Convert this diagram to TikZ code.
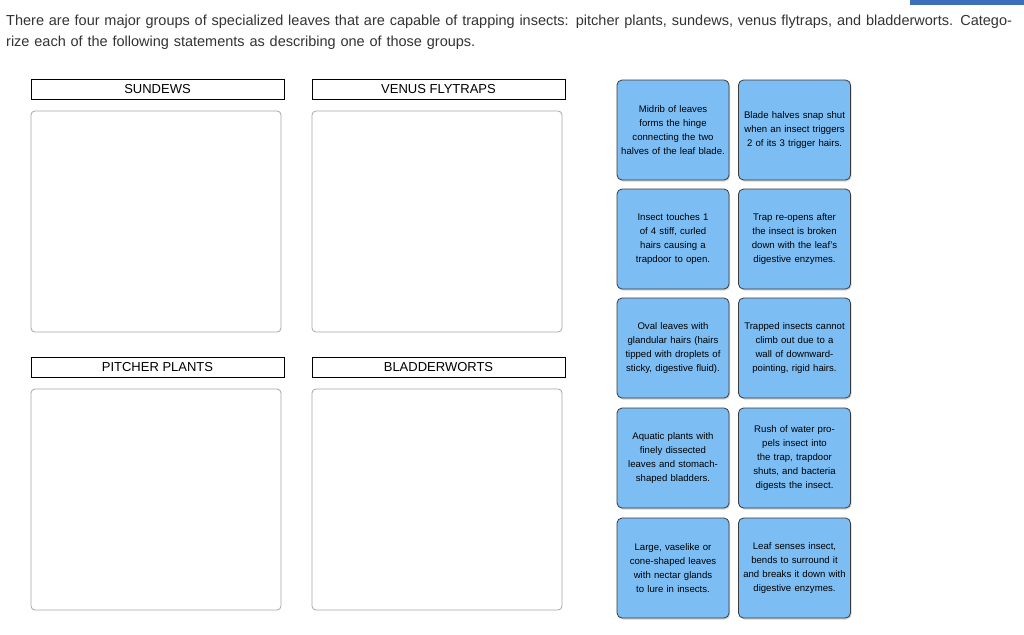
\documentclass[tikz,border=0pt]{standalone}
\usepackage{fontspec}
\setmainfont{Liberation Sans}
\definecolor{cardfill}{HTML}{7CBDF4}
\definecolor{cardedge}{HTML}{3A3A3A}
\definecolor{topbar}{HTML}{3D6FB8}
\definecolor{txt}{HTML}{333333}
\begin{document}
\begin{tikzpicture}[x=1pt,y=-1pt,
  lbl/.style={draw=black,line width=0.9pt,minimum width=253pt,minimum height=20pt,inner sep=0pt,font=\fontsize{13}{13}\selectfont},
  drop/.style={draw=gray!70,line width=0.8pt,rounded corners=4pt,minimum width=250pt,minimum height=221pt},
  card/.style={draw=cardedge,fill=cardfill,line width=0.8pt,rounded corners=5pt,minimum width=112pt,minimum height=100pt,text width=104pt,align=center,inner sep=2pt,font=\fontsize{9.6}{14}\selectfont,
    drop shadow={opacity=0.35,shadow xshift=1pt,shadow yshift=-1.5pt}}]
\usetikzlibrary{shadows}
\useasboundingbox (0,0) rectangle (1024,634);
\fill[white] (0,0) rectangle (1024,634);
\fill[topbar] (910,0) rectangle (1024,5);
\node[anchor=west,text=txt,font=\fontsize{14.5}{21}\selectfont,text width=1010pt,align=left,inner sep=0pt] (intro) at (6,32)
 {There are four major groups of specialized leaves that are capable of trapping insects: pitcher plants, sundews, venus flytraps, and bladderworts. Categorize each of the following statements as describing one of those groups.};
\node[lbl] (l1) at (157.5,89) {SUNDEWS};
\node[lbl] (l2) at (438.5,89) {VENUS FLYTRAPS};
\node[lbl] (l3) at (157.5,367) {PITCHER PLANTS};
\node[lbl] (l4) at (438.5,367) {BLADDERWORTS};
\node[drop] (d1) at (156,221.5) {};
\node[drop] (d2) at (437,221.5) {};
\node[drop] (d3) at (156,499.5) {};
\node[drop] (d4) at (437,499.5) {};
\node[card] (c11) at (673,130) {Midrib of leaves forms the hinge connecting the two halves of the leaf blade.};
\node[card] (c12) at (794.5,130) {Blade halves snap shut when an insect triggers 2 of its 3 trigger hairs.};
\node[card] (c21) at (673,239) {Insect touches 1 of 4 stiff, curled hairs causing a trapdoor to open.};
\node[card] (c22) at (794.5,239) {Trap re-opens after the insect is broken down with the leaf's digestive enzymes.};
\node[card] (c31) at (673,348) {Oval leaves with glandular hairs (hairs tipped with droplets of sticky, digestive fluid).};
\node[card] (c32) at (794.5,348) {Trapped insects cannot climb out due to a wall of downward-pointing, rigid hairs.};
\node[card] (c41) at (673,458) {Aquatic plants with finely dissected leaves and stomach-shaped bladders.};
\node[card] (c42) at (794.5,458) {Rush of water propels insect into the trap, trapdoor shuts, and bacteria digests the insect.};
\node[card] (c51) at (673,568) {Large, vaselike or cone-shaped leaves with nectar glands to lure in insects.};
\node[card] (c52) at (794.5,568) {Leaf senses insect, bends to surround it and breaks it down with digestive enzymes.};
\end{tikzpicture}
\end{document}
